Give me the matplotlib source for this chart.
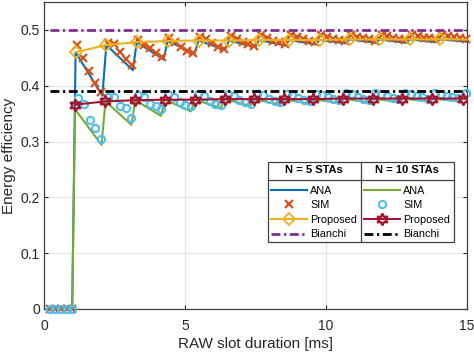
import matplotlib
matplotlib.use("Agg")
import matplotlib.pyplot as plt
from matplotlib.lines import Line2D
from matplotlib.patches import Rectangle

plt.rcParams['font.family'] = ['Liberation Sans', 'DejaVu Sans']

# ---------------- data ----------------
# N = 5 STAs
ana5_x = [0.2, 1.0, 1.12, 2.07, 2.21, 3.15, 3.29, 4.24, 4.38, 5.34, 5.48, 6.42, 6.56, 7.49,
          7.63, 8.56, 8.70, 9.63, 9.77, 10.70, 10.84, 11.77, 11.91, 12.84, 12.98, 13.91, 14.05, 15.0]
ana5_y = [0.0, 0.0, 0.460, 0.382, 0.473, 0.428, 0.478, 0.447, 0.480, 0.458, 0.481, 0.464, 0.481, 0.469,
          0.482, 0.472, 0.482, 0.474, 0.482, 0.476, 0.483, 0.477, 0.483, 0.477, 0.483, 0.478, 0.483, 0.479]

sim5_x = [0.2, 0.4, 0.6, 0.8, 1.0,
          1.18, 1.39, 1.60, 1.81, 2.02,
          2.27, 2.48, 2.69, 2.90, 3.11,
          3.35, 3.56, 3.77, 3.98, 4.19,
          4.44, 4.65, 4.86, 5.07, 5.28,
          5.54, 5.75, 5.96, 6.17, 6.38,
          6.62, 6.83, 7.04, 7.25, 7.46,
          7.69, 7.90, 8.11, 8.32, 8.53,
          8.76, 8.97, 9.18, 9.39, 9.60,
          9.83, 10.04, 10.25, 10.46, 10.67,
          10.90, 11.11, 11.32, 11.53, 11.74,
          11.97, 12.18, 12.39, 12.60, 12.81,
          13.04, 13.25, 13.46, 13.67, 13.88,
          14.11, 14.32, 14.53, 14.74, 14.95]
sim5_y = [0.0, 0.0, 0.0, 0.0, 0.0,
          0.473, 0.449, 0.427, 0.404, 0.388,
          0.477, 0.475, 0.461, 0.447, 0.437,
          0.482, 0.473, 0.467, 0.458, 0.452,
          0.486, 0.478, 0.470, 0.463, 0.458,
          0.488, 0.483, 0.476, 0.470, 0.466,
          0.489, 0.484, 0.479, 0.474, 0.471,
          0.490, 0.486, 0.481, 0.478, 0.475,
          0.490, 0.487, 0.483, 0.480, 0.478,
          0.490, 0.488, 0.484, 0.482, 0.480,
          0.490, 0.488, 0.485, 0.483, 0.481,
          0.491, 0.489, 0.486, 0.484, 0.482,
          0.491, 0.489, 0.486, 0.485, 0.483,
          0.491, 0.489, 0.487, 0.485, 0.484]

prop5_x = [1.12, 2.21, 3.29, 4.38, 5.48, 6.56, 7.63, 8.70, 9.77, 10.84, 11.91, 12.98, 14.05, 15.0]
prop5_y = [0.460, 0.473, 0.478, 0.480, 0.481, 0.481, 0.482, 0.482, 0.482, 0.483, 0.483, 0.483, 0.483, 0.483]

bianchi5_x = [0.2, 15.0]
bianchi5_y = [0.5, 0.5]

# N = 10 STAs
ana10_x = [0.2, 1.0, 1.10, 2.04, 2.18, 3.10, 3.24, 4.15, 4.29, 5.21, 5.35, 6.27, 6.41, 7.32, 7.46,
           8.36, 8.50, 9.40, 9.54, 10.46, 10.60, 11.51, 11.65, 12.56, 12.70, 13.62, 13.76, 14.72, 14.86, 15.0]
ana10_y = [0.0, 0.0, 0.358, 0.294, 0.372, 0.330, 0.374, 0.346, 0.375, 0.354, 0.375, 0.360, 0.376, 0.364, 0.376,
           0.366, 0.376, 0.368, 0.376, 0.369, 0.377, 0.370, 0.377, 0.371, 0.377, 0.372, 0.377, 0.372, 0.377, 0.376]

sim10_x = [0.2, 0.4, 0.6, 0.8, 1.0,
           1.20, 1.41, 1.62, 1.82, 2.02,
           2.28, 2.49, 2.70, 2.90, 3.10,
           3.34, 3.55, 3.76, 3.96, 4.16,
           4.39, 4.60, 4.81, 5.01, 5.21,
           5.45, 5.66, 5.87, 6.07, 6.27,
           6.51, 6.72, 6.93, 7.13, 7.33,
           7.56, 7.77, 7.98, 8.18, 8.38,
           8.60, 8.81, 9.02, 9.22, 9.42,
           9.64, 9.85, 10.06, 10.26, 10.46,
           10.70, 10.91, 11.12, 11.32, 11.52,
           11.75, 11.96, 12.17, 12.37, 12.57,
           12.80, 13.01, 13.22, 13.42, 13.62,
           13.86, 14.07, 14.28, 14.48, 14.68,
           14.96]
sim10_y = [0.0, 0.0, 0.0, 0.0, 0.0,
           0.378, 0.367, 0.339, 0.324, 0.304,
           0.380, 0.380, 0.364, 0.360, 0.342,
           0.383, 0.379, 0.367, 0.364, 0.358,
           0.385, 0.379, 0.371, 0.366, 0.364,
           0.385, 0.381, 0.373, 0.368, 0.366,
           0.385, 0.382, 0.375, 0.370, 0.368,
           0.386, 0.383, 0.377, 0.372, 0.370,
           0.386, 0.384, 0.378, 0.374, 0.372,
           0.386, 0.384, 0.379, 0.376, 0.374,
           0.387, 0.385, 0.380, 0.377, 0.375,
           0.387, 0.385, 0.381, 0.378, 0.376,
           0.387, 0.385, 0.381, 0.379, 0.377,
           0.387, 0.386, 0.382, 0.380, 0.378,
           0.387]

prop10_x = [1.10, 2.18, 3.24, 4.29, 5.35, 6.41, 7.46, 8.50, 9.54, 10.60, 11.65, 12.70, 13.76, 14.86, 15.0]
prop10_y = [0.366, 0.372, 0.374, 0.375, 0.375, 0.376, 0.376, 0.376, 0.376, 0.377, 0.377, 0.377, 0.377, 0.377, 0.377]

bianchi10_x = [0.2, 15.0]
bianchi10_y = [0.391, 0.391]

legend_labels = ['ANA', 'SIM', 'Proposed', 'Bianchi']
legend_titles = ['N = 5 STAs', 'N = 10 STAs']
x_ticks = [0, 5, 10, 15]
y_ticks = [0, 0.1, 0.2, 0.3, 0.4, 0.5]
y_ticklabels = ['0', '0.1', '0.2', '0.3', '0.4', '0.5']

# ---------------- style ----------------
C_BLUE = '#0072BD'
C_ORANGE = '#D95319'
C_YELLOW = '#EDB120'
C_PURPLE = '#7E2F8E'
C_GREEN = '#77AC30'
C_CYAN = '#4DBEEE'
C_RED = '#A2142F'
AX_COL = '#262626'
DASHDOT = (0, (3.2, 1.3, 0.8, 1.3))
HEXAGRAM = (6, 1, 0)

fig = plt.figure(figsize=(4.74, 3.56), dpi=100)
ax = fig.add_axes([44 / 474, 47 / 356, 423 / 474, 307 / 356])

l_ana5, = ax.plot(ana5_x, ana5_y, color=C_BLUE, lw=1.5, zorder=3)
l_sim5, = ax.plot(sim5_x, sim5_y, ls='none', marker='x', color=C_ORANGE, ms=5.5, mew=1.6,
                  clip_on=False, zorder=3)
l_prop5, = ax.plot(prop5_x, prop5_y, color=C_YELLOW, lw=1.5, marker='D', ms=6, mfc='none',
                   mew=1.3, markevery=list(range(len(prop5_x) - 1)), zorder=3)
l_b5, = ax.plot(bianchi5_x, bianchi5_y, color=C_PURPLE, lw=2.0, ls=DASHDOT, zorder=3)

l_ana10, = ax.plot(ana10_x, ana10_y, color=C_GREEN, lw=1.5, zorder=3)
l_sim10, = ax.plot(sim10_x, sim10_y, ls='none', marker='o', color=C_CYAN, ms=5.2, mfc='none',
                   mew=1.5, clip_on=False, zorder=3)
l_prop10, = ax.plot(prop10_x, prop10_y, color=C_RED, lw=1.5, marker=HEXAGRAM, ms=8.5, mfc='none',
                    mew=1.6, markevery=list(range(len(prop10_x) - 1)), zorder=3)
l_b10, = ax.plot(bianchi10_x, bianchi10_y, color='black', lw=2.0, ls=DASHDOT, zorder=3)

ax.set_xlim(0, 15)
ax.set_ylim(0, 0.55)
ax.set_xticks(x_ticks)
ax.set_xticklabels([str(t) for t in x_ticks])
ax.set_yticks(y_ticks)
ax.set_yticklabels(y_ticklabels)
ax.grid(True, color='#e2e2e2', lw=0.8, zorder=0)
ax.set_axisbelow(True)
ax.tick_params(direction='in', length=3, width=0.8, top=True, right=True, color=AX_COL,
               labelcolor=AX_COL, labelsize=10)
ax.tick_params(axis='x', pad=7)
ax.tick_params(axis='y', pad=3)
for s in ax.spines.values():
    s.set_color('#404040')
    s.set_linewidth(0.9)
ax.set_xlabel('RAW slot duration [ms]', fontsize=11, color=AX_COL, labelpad=3)
ax.set_ylabel('Energy efficiency', fontsize=11, color=AX_COL, labelpad=3)

# ---------------- legend (two titled columns in one box) ----------------
bx0, bx1 = (268 - 44) / 423, (454 - 44) / 423
by0, by1 = (309 - 242) / 307, (309 - 162) / 307
bdiv = (361 - 44) / 423
bhead = (309 - 180) / 307

ax.add_patch(Rectangle((bx0, by0), bx1 - bx0, by1 - by0, transform=ax.transAxes,
                       facecolor='white', edgecolor='#404040', lw=0.9, zorder=4.5))
ax.add_line(Line2D([bx0, bx1], [bhead, bhead], transform=ax.transAxes, color='#404040',
                   lw=0.9, zorder=4.6))
ax.add_line(Line2D([bdiv, bdiv], [by0, by1], transform=ax.transAxes, color='#404040',
                   lw=0.9, zorder=4.6))

leg_kw = dict(loc='upper left', frameon=False, fontsize=7.8, numpoints=1,
              handlelength=3.3, handletextpad=0.3, labelspacing=0.42, borderpad=0.3,
              borderaxespad=0, title_fontproperties={'weight': 'bold', 'size': 8})
leg1 = ax.legend([l_ana5, l_sim5, l_prop5, l_b5], legend_labels, title=legend_titles[0],
                 bbox_to_anchor=(bx0, by1), **leg_kw)
leg1._legend_box.sep = 7.5
leg1.set_zorder(5)
ax.add_artist(leg1)
leg2 = ax.legend([l_ana10, l_sim10, l_prop10, l_b10], legend_labels, title=legend_titles[1],
                 bbox_to_anchor=(bdiv, by1), **leg_kw)
leg2._legend_box.sep = 7.5
leg2.set_zorder(5)

fig.savefig('out.png', dpi=100)
